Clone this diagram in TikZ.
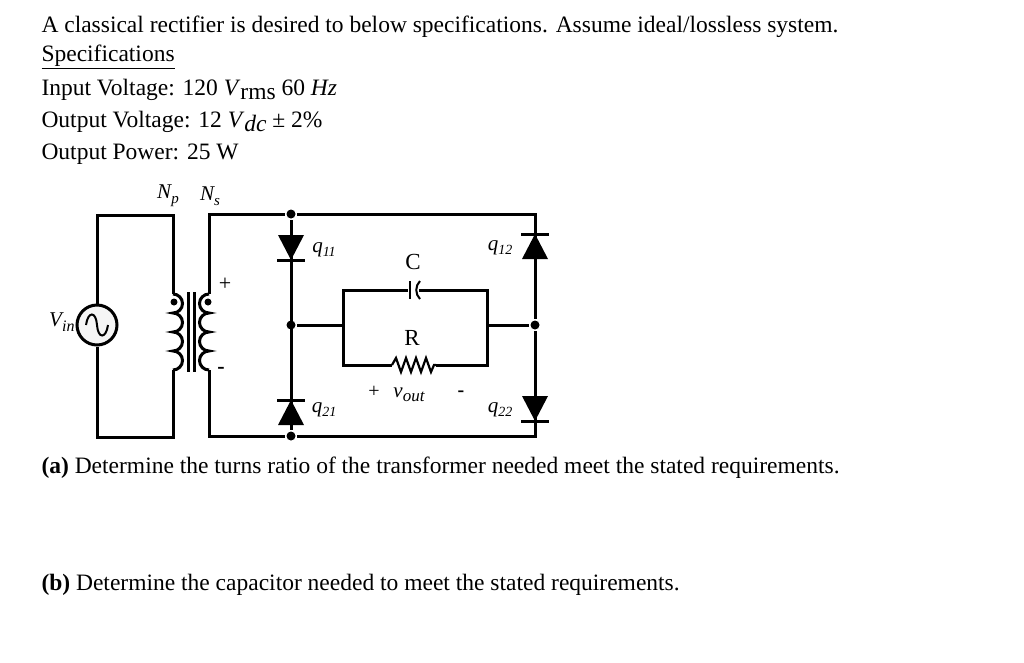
\documentclass[tikz,border=0pt]{standalone}
\usepackage{fontspec}
\setmainfont{Liberation Serif}
\begin{document}
\begin{tikzpicture}[x=1pt,y=-1pt,line width=3pt,
  txt/.style={anchor=west,inner sep=0pt,font=\fontsize{23.5}{26}\selectfont},
  lbl/.style={inner sep=0pt,font=\fontsize{21}{22}\selectfont\itshape},
  dot/.style={circle,fill,inner sep=0pt,minimum size=9pt}]
\useasboundingbox (0,0) rectangle (1024,662);
\node[txt] (t1) at (40,27) {A classical rectifier is desired to below specifications. Assume ideal/lossless system.};
\node[txt] (t2) at (40,57) {\underline{Specifications}};
\node[txt] (t3) at (40,90) {Input Voltage: 120 \textit{V}\raisebox{-0.35ex}{rms} 60 \textit{Hz}};
\node[txt] (t4) at (40,122) {Output Voltage: 12 \textit{V}\raisebox{-0.35ex}{\textit{dc}} ± 2\%};
\node[txt] (t5) at (40,154) {Output Power: 25 W};
\node[txt] (ta) at (40,468) {\textbf{(a)} Determine the turns ratio of the transformer needed meet the stated requirements.};
\node[txt] (tb) at (40,585) {\textbf{(b)} Determine the capacitor needed to meet the stated requirements.};
% source loop
\node[circle,draw,fill=gray!8,minimum size=40pt,inner sep=0pt] (src) at (97,325) {};
\draw[line width=2pt] (86,325) .. controls (88,311) and (96,311) .. (97,325) .. controls (98,339) and (106,339) .. (108,325);
\node[lbl,anchor=east] (vin) at (76,322) {V\raisebox{-0.5ex}{\fontsize{16}{16}\selectfont in}};
\coordinate (p1) at (173,294); \coordinate (p2) at (173,370);
\coordinate (s1) at (209,294); \coordinate (s2) at (209,370);
\draw (src.north) |- (173,215) -- (p1);
\draw (src.south) |- (173,437) -- (p2);
% coils
\draw (p1) arc[start angle=90,end angle=-90,radius=9.5pt] arc[start angle=90,end angle=-90,radius=9.5pt] arc[start angle=90,end angle=-90,radius=9.5pt] arc[start angle=90,end angle=-90,radius=9.5pt];
\draw (s1) arc[start angle=90,end angle=270,radius=9.5pt] arc[start angle=90,end angle=270,radius=9.5pt] arc[start angle=90,end angle=270,radius=9.5pt] arc[start angle=90,end angle=270,radius=9.5pt];
\draw (188,292) -- (188,372) (194,292) -- (194,372);
\node[dot,minimum size=7pt] (d1) at (174,302) {};
\node[dot,minimum size=7pt] (d2) at (208,302) {};
\node[lbl,font=\fontsize{22}{22}\selectfont] (plus) at (225,284) {+};
\node[lbl,font=\fontsize{22}{22}\bfseries] (minus) at (221,370) {-};
\node[lbl] (np) at (168,196) {N\raisebox{-0.5ex}{\fontsize{15}{15}\selectfont p}};
\node[lbl] (ns) at (210,196) {N\raisebox{-0.5ex}{\fontsize{15}{15}\selectfont s}};
% bridge
\node[dot] (top) at (291,214) {};
\node[dot] (bot) at (291,436) {};
\node[dot] (ml) at (291,325) {};
\node[dot] (mr) at (535,325) {};
\draw (s1) -- (209,214) -- (top) -- (535,214) -- (mr) -- (535,436) -- (bot) -- (209,436) -- (s2);
\draw (top) -- (bot);
\draw (ml) -- (343,325) (343,290) rectangle (487,365) (487,325) -- (mr);
% diodes
\fill (278,235) -- (304,235) -- (291,260) -- cycle; \draw (277,260) -- (305,260);
\fill (278,425) -- (304,425) -- (291,400) -- cycle; \draw (277,400) -- (305,400);
\fill (522,259) -- (548,259) -- (535,234) -- cycle; \draw (521,234) -- (549,234);
\fill (522,396) -- (548,396) -- (535,421) -- cycle; \draw (521,421) -- (549,421);
\node[lbl] (q11) at (324,250) {q\raisebox{-0.4ex}{\fontsize{14}{14}\selectfont 11}};
\node[lbl] (q12) at (500,248) {q\raisebox{-0.4ex}{\fontsize{14}{14}\selectfont 12}};
\node[lbl] (q21) at (324,410) {q\raisebox{-0.4ex}{\fontsize{14}{14}\selectfont 21}};
\node[lbl] (q22) at (500,410) {q\raisebox{-0.4ex}{\fontsize{14}{14}\selectfont 22}};
% capacitor
\fill[white] (408,284) rectangle (419,296);
\draw[line width=2pt] (410,281) -- (410,299);
\draw[line width=2pt] (420,281) .. controls (415,286) and (415,294) .. (420,299);
\node[lbl,font=\fontsize{23}{23}\selectfont] (C) at (413,262) {C};
% resistor
\fill[white] (392,360) rectangle (436,370);
\draw[line width=2.2pt] (392,365) -- (396,358) -- (401,372) -- (406,358) -- (411,372) -- (416,358) -- (421,372) -- (426,358) -- (431,372) -- (434,365) -- (436,365);
\node[lbl,font=\fontsize{23}{23}\selectfont] (R) at (412,338) {R};
\node[lbl,font=\fontsize{20}{20}\selectfont] (vp) at (374,392) {+};
\node[lbl] (vo) at (409,395) {v\raisebox{-0.4ex}{\fontsize{17}{17}\selectfont out}};
\node[lbl,font=\fontsize{20}{20}\bfseries] (vm) at (461,394) {-};
\end{tikzpicture}
\end{document}
